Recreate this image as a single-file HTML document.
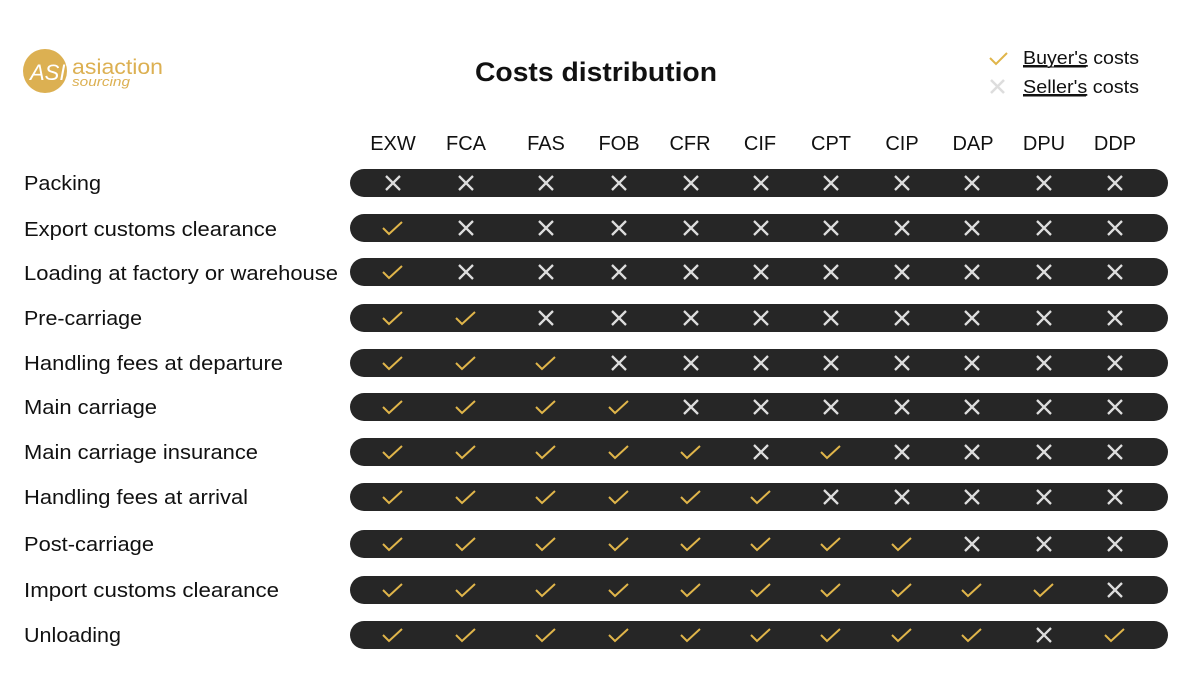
<!DOCTYPE html>
<html><head><meta charset="utf-8"><style>
html,body{margin:0;padding:0;background:#fff;width:1200px;height:700px;overflow:hidden}
text{font-family:"Liberation Sans",sans-serif;fill:#111}
</style></head><body>
<svg id="s" width="1200" height="700" xmlns="http://www.w3.org/2000/svg">
<circle cx="45" cy="71" r="22" fill="#dcb052"/>
<text x="30" y="80" font-size="22" font-style="italic" style="fill:#fff">ASI</text>
<text x="72" y="74" font-size="21" style="fill:#dcb052" textLength="91" lengthAdjust="spacingAndGlyphs">asiaction</text>
<text x="72" y="86" font-size="13" font-style="italic" style="fill:#dcb052" textLength="58" lengthAdjust="spacingAndGlyphs">sourcing</text>
<text x="475" y="81" font-size="27" font-weight="bold" textLength="242" lengthAdjust="spacingAndGlyphs">Costs distribution</text>
<path d="M990 58 l6 6 l11 -11" stroke="#e0b54a" stroke-width="2" fill="none"/>
<path d="M991 80 l13 13 M1004 80 l-13 13" stroke="#ddd" stroke-width="2.5"/>
<text x="1023" y="64" font-size="18" textLength="116" lengthAdjust="spacingAndGlyphs"><tspan text-decoration="underline">Buyer's</tspan> costs</text>
<line x1="1023" y1="67" x2="1086" y2="67" stroke="#111" stroke-width="1"/>
<text x="1023" y="93" font-size="18" textLength="116" lengthAdjust="spacingAndGlyphs"><tspan text-decoration="underline">Seller's</tspan> costs</text>
<line x1="1023" y1="96" x2="1086" y2="96" stroke="#111" stroke-width="1"/>
<g font-size="20" text-anchor="middle">
<text x="393" y="150">EXW</text><text x="466" y="150">FCA</text><text x="546" y="150">FAS</text><text x="619" y="150">FOB</text><text x="690" y="150">CFR</text><text x="760" y="150">CIF</text><text x="831" y="150">CPT</text><text x="902" y="150">CIP</text><text x="973" y="150">DAP</text><text x="1044" y="150">DPU</text><text x="1115" y="150">DDP</text>
</g>
<g font-size="20">
<text x="24" y="190" textLength="77" lengthAdjust="spacingAndGlyphs">Packing</text>
<text x="24" y="236" textLength="253" lengthAdjust="spacingAndGlyphs">Export customs clearance</text>
<text x="24" y="280" textLength="314" lengthAdjust="spacingAndGlyphs">Loading at factory or warehouse</text>
<text x="24" y="325" textLength="118" lengthAdjust="spacingAndGlyphs">Pre-carriage</text>
<text x="24" y="370" textLength="259" lengthAdjust="spacingAndGlyphs">Handling fees at departure</text>
<text x="24" y="414" textLength="133" lengthAdjust="spacingAndGlyphs">Main carriage</text>
<text x="24" y="459" textLength="234" lengthAdjust="spacingAndGlyphs">Main carriage insurance</text>
<text x="24" y="504" textLength="224" lengthAdjust="spacingAndGlyphs">Handling fees at arrival</text>
<text x="24" y="551" textLength="130" lengthAdjust="spacingAndGlyphs">Post-carriage</text>
<text x="24" y="597" textLength="255" lengthAdjust="spacingAndGlyphs">Import customs clearance</text>
<text x="24" y="642" textLength="97" lengthAdjust="spacingAndGlyphs">Unloading</text>
</g>
<g id="g"></g>
</svg>
<script>
var ys=[183,228,272,318,363,407,452,497,544,590,635];
var xs=[393,466,546,619,691,761,831,902,972,1044,1115];
var pat=["00000000000","10000000000","10000000000","11000000000","11100000000","11110000000","11111010000","11111100000","11111111000","11111111110","11111111101"];
var h="";
for(var r=0;r<11;r++){var y=ys[r];
h+='<rect x="350" y="'+(y-14)+'" width="818" height="28" rx="14" fill="#262626"/>';
for(var c=0;c<11;c++){var x=xs[c];
if(pat[r][c]=="1")h+='<path d="M'+(x-10)+' '+(y)+' l6 6 l13 -12" stroke="#e0b54a" stroke-width="2" fill="none"/>';
else h+='<path d="M'+(x-7)+' '+(y-7)+' l14 14 M'+(x+7)+' '+(y-7)+' l-14 14" stroke="#ddd" stroke-width="2.3"/>';}}
document.getElementById("g").innerHTML=h;
</script>
</body></html>
